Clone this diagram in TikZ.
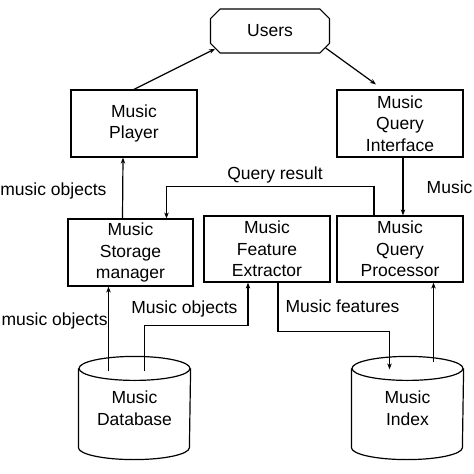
\documentclass[tikz,border=0pt]{standalone}
\usepackage{fontspec}
\setmainfont{Liberation Sans}
\usetikzlibrary{arrows.meta,shapes.misc}

\begin{document}
\begin{tikzpicture}[
        x=1pt, y=-1pt,
        line width=1.2pt,
        font=\fontsize{17.5}{21.7}\selectfont,
        box/.style={draw, rectangle, align=center, minimum width=126pt, minimum height=67pt, inner sep=0pt},
        users/.style={draw, chamfered rectangle, chamfered rectangle xsep=14pt, minimum width=119pt, minimum height=44pt, inner sep=0pt},
        store/.style={rectangle, align=center, minimum width=111pt, minimum height=102pt, inner sep=0pt},
        lbl/.style={inner sep=0pt},
        arr/.style={-{Stealth[length=6pt,width=4.5pt]}}
    ]
    \useasboundingbox (0,0) rectangle (474,474);

    \node[users] (us) at (270,31) {Users};
    \node[box] (pl) at (134,123.5) {Music\\Player};
    \node[box] (qi) at (400,123.5) {Music\\Query\\Interface};
    \node[box, minimum width=125pt] (sm) at (130.5,252.5) {Music\\Storage\\manager};
    \node[box, minimum height=66pt] (fe) at (267,249) {Music\\Feature\\Extractor};
    \node[box, minimum height=66pt] (qp) at (400,249) {Music\\Query\\Processor};
    \node[store] (db) at (134.5,408) {Music\\Database};
    \node[store] (ix) at (407.5,408) {Music\\Index};

    % cylinders
    \foreach \s in {db,ix} {
        \draw ([yshift=-12pt]\s.north) ellipse [x radius=55.5pt, y radius=12pt];
        \draw ([yshift=-12pt]\s.north west) -- ([yshift=12pt]\s.south west)
            arc [start angle=180, end angle=360, x radius=55.5pt, y radius=12pt]
            -- ([yshift=-12pt]\s.north east);
    }

    % labels
    \node[lbl, anchor=base east] (mo1) at (107,195) {music objects};
    \node[lbl, anchor=base west] (mo2) at (1,325) {music objects};
    \node[lbl, anchor=base east] (mo3) at (238,313) {Music objects};
    \node[lbl, anchor=base west] (mf) at (285,312) {Music features};
    \node[lbl, anchor=base] (qr) at (275,179) {Query result};
    \node[lbl, anchor=base east] (mq) at (473,193) {Music};

    % connectors
    \draw[arr] (pl.north) -- (us.198);
    \draw[arr] (us.-17) -- ([xshift=-24pt,yshift=5pt]qi.north);
    \draw[arr] ([xshift=-8pt]sm.north) -- ([xshift=-11pt]pl.south);
    \draw[arr] ([xshift=3pt]qi.south) -- ([xshift=3pt]qp.north);
    \draw[arr] ([xshift=-26pt]qp.north) -- ++(0,-29) -| ([xshift=36pt]sm.north);
    \coordinate (dbl) at ([xshift=-26pt,yshift=-15pt]db.north);
    \coordinate (dbr) at ([xshift=10pt,yshift=-15pt]db.north);
    \coordinate (ixr) at ([xshift=26pt,yshift=-6pt]ix.north);
    \draw[arr] (dbl) -- (dbl |- sm.south);
    \draw[arr] (dbr) -- ++(0,-46) -| ([xshift=-19pt]fe.south);
    \draw[arr] ([xshift=11pt]fe.south) -- ++(0,49) -| ([xshift=-18pt,yshift=-13pt]ix.north);
    \draw[arr] (ixr) -- (ixr |- qp.south);
\end{tikzpicture}
\end{document}
